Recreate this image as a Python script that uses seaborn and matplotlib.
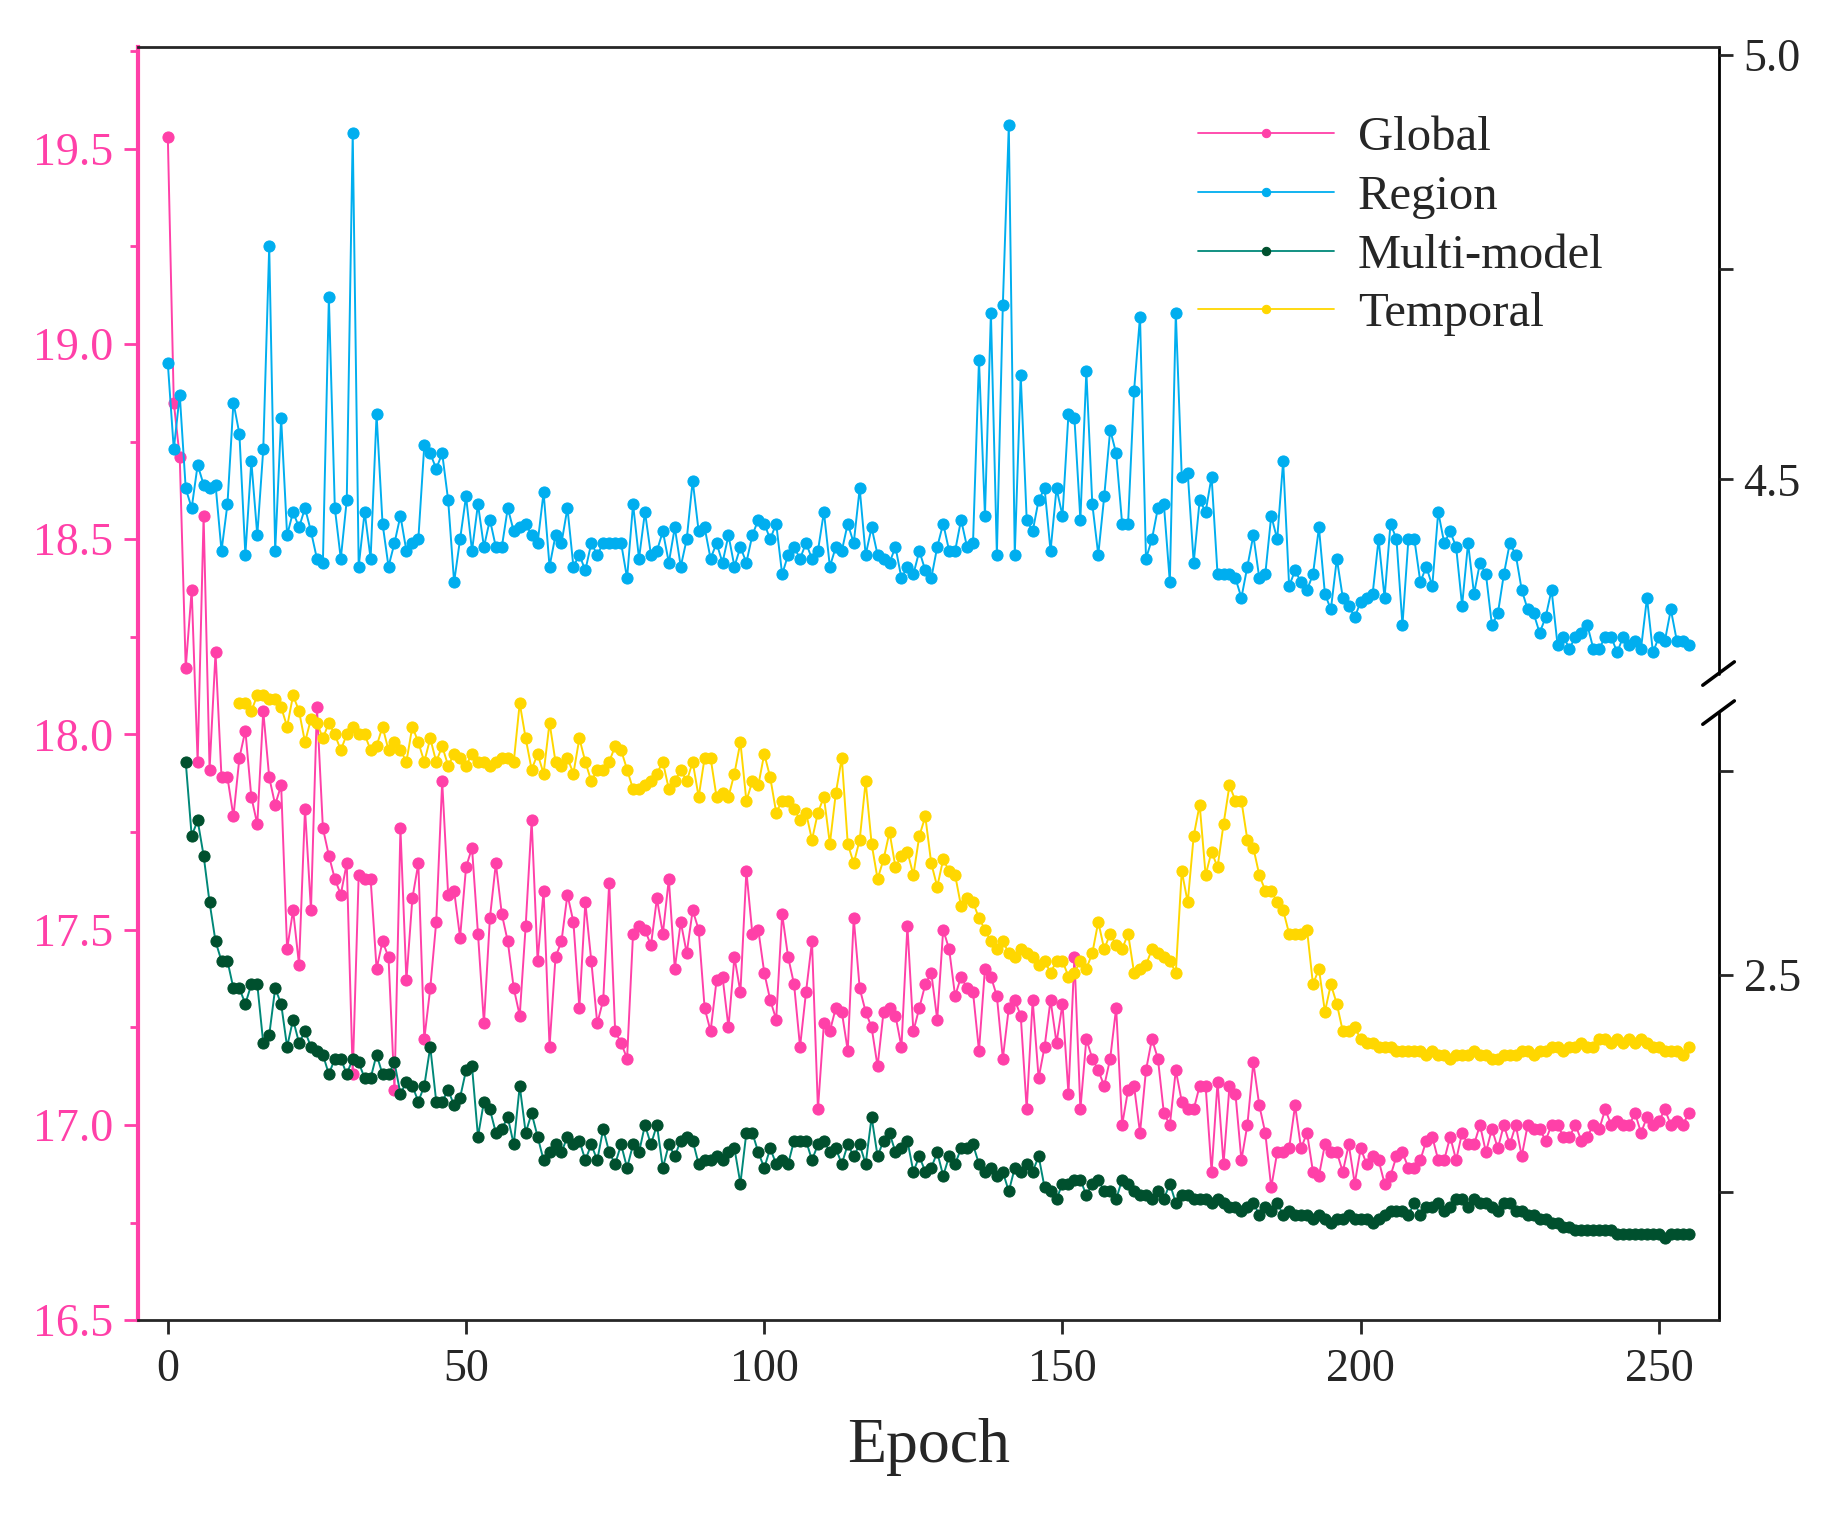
import numpy as np
import pandas as pd
import matplotlib
matplotlib.use('Agg')
import matplotlib.pyplot as plt
import seaborn as sns

# ── Data (plotted on the left-axis scale; Region/Temporal belong to the broken right axis) ──
global_loss = [
    19.53, 18.85, 18.71, 18.17, 18.37, 17.93, 18.56, 17.91, 18.21, 17.89,
    17.89, 17.79, 17.94, 18.01, 17.84, 17.77, 18.06, 17.89, 17.82, 17.87,
    17.45, 17.55, 17.41, 17.81, 17.55, 18.07, 17.76, 17.69, 17.63, 17.59,
    17.67, 17.13, 17.64, 17.63, 17.63, 17.40, 17.47, 17.43, 17.09, 17.76,
    17.37, 17.58, 17.67, 17.22, 17.35, 17.52, 17.88, 17.59, 17.60, 17.48,
    17.66, 17.71, 17.49, 17.26, 17.53, 17.67, 17.54, 17.47, 17.35, 17.28,
    17.51, 17.78, 17.42, 17.60, 17.20, 17.43, 17.47, 17.59, 17.52, 17.30,
    17.57, 17.42, 17.26, 17.32, 17.62, 17.24, 17.21, 17.17, 17.49, 17.51,
    17.50, 17.46, 17.58, 17.49, 17.63, 17.40, 17.52, 17.44, 17.55, 17.50,
    17.30, 17.24, 17.37, 17.38, 17.25, 17.43, 17.34, 17.65, 17.49, 17.50,
    17.39, 17.32, 17.27, 17.54, 17.43, 17.36, 17.20, 17.34, 17.47, 17.04,
    17.26, 17.24, 17.30, 17.29, 17.19, 17.53, 17.35, 17.29, 17.25, 17.15,
    17.29, 17.30, 17.28, 17.20, 17.51, 17.24, 17.30, 17.36, 17.39, 17.27,
    17.50, 17.45, 17.33, 17.38, 17.35, 17.34, 17.19, 17.40, 17.38, 17.33,
    17.17, 17.30, 17.32, 17.28, 17.04, 17.32, 17.12, 17.20, 17.32, 17.21,
    17.31, 17.08, 17.43, 17.04, 17.22, 17.17, 17.14, 17.10, 17.17, 17.30,
    17.00, 17.09, 17.10, 16.98, 17.14, 17.22, 17.17, 17.03, 17.00, 17.14,
    17.06, 17.04, 17.04, 17.10, 17.10, 16.88, 17.11, 16.90, 17.10, 17.08,
    16.91, 17.00, 17.16, 17.05, 16.98, 16.84, 16.93, 16.93, 16.94, 17.05,
    16.94, 16.98, 16.88, 16.87, 16.95, 16.93, 16.93, 16.88, 16.95, 16.85,
    16.94, 16.90, 16.92, 16.91, 16.85, 16.87, 16.92, 16.93, 16.89, 16.89,
    16.91, 16.96, 16.97, 16.91, 16.91, 16.97, 16.91, 16.98, 16.95, 16.95,
    17.00, 16.93, 16.99, 16.94, 17.00, 16.95, 17.00, 16.92, 17.00, 16.99,
    16.99, 16.96, 17.00, 17.00, 16.97, 16.97, 17.00, 16.96, 16.97, 17.00,
    16.99, 17.04, 17.00, 17.01, 17.00, 17.00, 17.03, 16.98, 17.02, 17.00,
    17.01, 17.04, 17.00, 17.01, 17.00, 17.03,
]
region_loss = [
    18.95, 18.73, 18.87, 18.63, 18.58, 18.69, 18.64, 18.63, 18.64, 18.47,
    18.59, 18.85, 18.77, 18.46, 18.70, 18.51, 18.73, 19.25, 18.47, 18.81,
    18.51, 18.57, 18.53, 18.58, 18.52, 18.45, 18.44, 19.12, 18.58, 18.45,
    18.60, 19.54, 18.43, 18.57, 18.45, 18.82, 18.54, 18.43, 18.49, 18.56,
    18.47, 18.49, 18.50, 18.74, 18.72, 18.68, 18.72, 18.60, 18.39, 18.50,
    18.61, 18.47, 18.59, 18.48, 18.55, 18.48, 18.48, 18.58, 18.52, 18.53,
    18.54, 18.51, 18.49, 18.62, 18.43, 18.51, 18.49, 18.58, 18.43, 18.46,
    18.42, 18.49, 18.46, 18.49, 18.49, 18.49, 18.49, 18.40, 18.59, 18.45,
    18.57, 18.46, 18.47, 18.52, 18.44, 18.53, 18.43, 18.50, 18.65, 18.52,
    18.53, 18.45, 18.49, 18.44, 18.51, 18.43, 18.48, 18.44, 18.51, 18.55,
    18.54, 18.50, 18.54, 18.41, 18.46, 18.48, 18.45, 18.49, 18.45, 18.47,
    18.57, 18.43, 18.48, 18.47, 18.54, 18.49, 18.63, 18.46, 18.53, 18.46,
    18.45, 18.44, 18.48, 18.40, 18.43, 18.41, 18.47, 18.42, 18.40, 18.48,
    18.54, 18.47, 18.47, 18.55, 18.48, 18.49, 18.96, 18.56, 19.08, 18.46,
    19.10, 19.56, 18.46, 18.92, 18.55, 18.52, 18.60, 18.63, 18.47, 18.63,
    18.56, 18.82, 18.81, 18.55, 18.93, 18.59, 18.46, 18.61, 18.78, 18.72,
    18.54, 18.54, 18.88, 19.07, 18.45, 18.50, 18.58, 18.59, 18.39, 19.08,
    18.66, 18.67, 18.44, 18.60, 18.57, 18.66, 18.41, 18.41, 18.41, 18.40,
    18.35, 18.43, 18.51, 18.40, 18.41, 18.56, 18.50, 18.70, 18.38, 18.42,
    18.39, 18.37, 18.41, 18.53, 18.36, 18.32, 18.45, 18.35, 18.33, 18.30,
    18.34, 18.35, 18.36, 18.50, 18.35, 18.54, 18.50, 18.28, 18.50, 18.50,
    18.39, 18.43, 18.38, 18.57, 18.49, 18.52, 18.48, 18.33, 18.49, 18.36,
    18.44, 18.41, 18.28, 18.31, 18.41, 18.49, 18.46, 18.37, 18.32, 18.31,
    18.26, 18.30, 18.37, 18.23, 18.25, 18.22, 18.25, 18.26, 18.28, 18.22,
    18.22, 18.25, 18.25, 18.21, 18.25, 18.23, 18.24, 18.22, 18.35, 18.21,
    18.25, 18.24, 18.32, 18.24, 18.24, 18.23,
]
multi_loss = [
    17.93, 17.74, 17.78, 17.69, 17.57, 17.47, 17.42, 17.42, 17.35, 17.35,
    17.31, 17.36, 17.36, 17.21, 17.23, 17.35, 17.31, 17.20, 17.27, 17.21,
    17.24, 17.20, 17.19, 17.18, 17.13, 17.17, 17.17, 17.13, 17.17, 17.16,
    17.12, 17.12, 17.18, 17.13, 17.13, 17.16, 17.08, 17.11, 17.10, 17.06,
    17.10, 17.20, 17.06, 17.06, 17.09, 17.05, 17.07, 17.14, 17.15, 16.97,
    17.06, 17.04, 16.98, 16.99, 17.02, 16.95, 17.10, 16.98, 17.03, 16.97,
    16.91, 16.93, 16.95, 16.93, 16.97, 16.95, 16.96, 16.91, 16.95, 16.91,
    16.99, 16.93, 16.90, 16.95, 16.89, 16.95, 16.93, 17.00, 16.95, 17.00,
    16.89, 16.95, 16.92, 16.96, 16.97, 16.96, 16.90, 16.91, 16.91, 16.92,
    16.91, 16.93, 16.94, 16.85, 16.98, 16.98, 16.93, 16.89, 16.94, 16.90,
    16.91, 16.90, 16.96, 16.96, 16.96, 16.91, 16.95, 16.96, 16.93, 16.94,
    16.90, 16.95, 16.92, 16.95, 16.90, 17.02, 16.92, 16.96, 16.98, 16.93,
    16.94, 16.96, 16.88, 16.92, 16.88, 16.89, 16.93, 16.87, 16.92, 16.90,
    16.94, 16.94, 16.95, 16.90, 16.88, 16.89, 16.87, 16.88, 16.83, 16.89,
    16.88, 16.90, 16.88, 16.92, 16.84, 16.83, 16.81, 16.85, 16.85, 16.86,
    16.86, 16.82, 16.85, 16.86, 16.83, 16.83, 16.81, 16.86, 16.85, 16.83,
    16.82, 16.82, 16.81, 16.83, 16.81, 16.85, 16.80, 16.82, 16.82, 16.81,
    16.81, 16.81, 16.80, 16.81, 16.80, 16.79, 16.79, 16.78, 16.79, 16.80,
    16.77, 16.79, 16.78, 16.80, 16.77, 16.78, 16.77, 16.77, 16.77, 16.76,
    16.77, 16.76, 16.75, 16.76, 16.76, 16.77, 16.76, 16.76, 16.76, 16.75,
    16.76, 16.77, 16.78, 16.78, 16.78, 16.77, 16.80, 16.77, 16.79, 16.79,
    16.80, 16.78, 16.79, 16.81, 16.81, 16.79, 16.81, 16.80, 16.80, 16.79,
    16.78, 16.80, 16.80, 16.78, 16.78, 16.77, 16.77, 16.76, 16.76, 16.75,
    16.75, 16.74, 16.74, 16.73, 16.73, 16.73, 16.73, 16.73, 16.73, 16.73,
    16.72, 16.72, 16.72, 16.72, 16.72, 16.72, 16.72, 16.72, 16.71, 16.72,
    16.72, 16.72, 16.72,
]
temporal_loss = [
    18.08, 18.08, 18.06, 18.10, 18.10, 18.09, 18.09, 18.07, 18.02, 18.10,
    18.06, 17.98, 18.04, 18.03, 17.99, 18.03, 18.00, 17.96, 18.00, 18.02,
    18.00, 18.00, 17.96, 17.97, 18.02, 17.96, 17.98, 17.96, 17.93, 18.02,
    17.98, 17.93, 17.99, 17.93, 17.97, 17.92, 17.95, 17.94, 17.92, 17.95,
    17.93, 17.93, 17.92, 17.93, 17.94, 17.94, 17.93, 18.08, 17.99, 17.91,
    17.95, 17.90, 18.03, 17.93, 17.92, 17.94, 17.90, 17.99, 17.93, 17.88,
    17.91, 17.91, 17.93, 17.97, 17.96, 17.91, 17.86, 17.86, 17.87, 17.88,
    17.90, 17.93, 17.86, 17.88, 17.91, 17.88, 17.93, 17.84, 17.94, 17.94,
    17.84, 17.85, 17.84, 17.90, 17.98, 17.83, 17.88, 17.87, 17.95, 17.89,
    17.80, 17.83, 17.83, 17.81, 17.78, 17.80, 17.73, 17.80, 17.84, 17.72,
    17.85, 17.94, 17.72, 17.67, 17.73, 17.88, 17.72, 17.63, 17.68, 17.75,
    17.66, 17.69, 17.70, 17.64, 17.74, 17.79, 17.67, 17.61, 17.68, 17.65,
    17.64, 17.56, 17.58, 17.57, 17.53, 17.50, 17.47, 17.45, 17.47, 17.44,
    17.43, 17.45, 17.44, 17.43, 17.41, 17.42, 17.39, 17.42, 17.42, 17.38,
    17.39, 17.42, 17.40, 17.44, 17.52, 17.45, 17.49, 17.46, 17.45, 17.49,
    17.39, 17.40, 17.41, 17.45, 17.44, 17.43, 17.42, 17.39, 17.65, 17.57,
    17.74, 17.82, 17.64, 17.70, 17.66, 17.77, 17.87, 17.83, 17.83, 17.73,
    17.71, 17.64, 17.60, 17.60, 17.57, 17.55, 17.49, 17.49, 17.49, 17.50,
    17.36, 17.40, 17.29, 17.36, 17.31, 17.24, 17.24, 17.25, 17.22, 17.21,
    17.21, 17.20, 17.20, 17.20, 17.19, 17.19, 17.19, 17.19, 17.19, 17.18,
    17.19, 17.18, 17.18, 17.17, 17.18, 17.18, 17.18, 17.19, 17.18, 17.18,
    17.17, 17.17, 17.18, 17.18, 17.18, 17.19, 17.19, 17.18, 17.19, 17.19,
    17.20, 17.20, 17.19, 17.20, 17.20, 17.21, 17.20, 17.20, 17.22, 17.22,
    17.21, 17.22, 17.21, 17.22, 17.21, 17.22, 17.21, 17.20, 17.20, 17.19,
    17.19, 17.19, 17.18, 17.20,
]
series_names = ["Global", "Region", "Multi-model", "Temporal"]
series_start = [0, 0, 3, 12]
line_colors = ["#FF40A8", "#00AEEF", "#008878", "#FFD700"]
marker_colors = ["#FF40A8", "#00AEEF", "#00502E", "#FFD700"]

left_ticks = [16.5, 17.0, 17.5, 18.0, 18.5, 19.0, 19.5]
# right (broken) axis: position on the left scale -> label
right_tick_pos = [19.74, 19.193, 18.653, 17.906, 17.384, 16.829]
right_tick_lab = ["5.0", "", "4.5", "", "2.5", ""]
break_pos = 18.106

# ── Figure ─────────────────────────────────────────────────────────────────
sns.set_style("ticks")
plt.rcParams['font.family'] = ['Liberation Serif', 'DejaVu Serif']

fig = plt.figure(figsize=(18.4, 15.21), dpi=100)
ax = fig.add_axes([0.075, 0.132, 0.859, 0.837])

all_series = [global_loss, region_loss, multi_loss, temporal_loss]
for name, vals, start, lc, mc in zip(series_names, all_series, series_start, line_colors, marker_colors):
    df = pd.DataFrame({"Epoch": np.arange(start, start + len(vals)), "Loss": vals})
    sns.lineplot(data=df, x="Epoch", y="Loss", ax=ax, color=lc, lw=1.4,
                 marker="o", markersize=8, markerfacecolor=mc, markeredgecolor=mc,
                 label=name)

ax.set_xlim(-5, 260)
ax.set_ylim(16.5, 19.76)
ax.set_xticks([0, 50, 100, 150, 200, 250])
ax.set_yticks(left_ticks)
ax.set_yticks(np.arange(16.75, 19.76, 0.5), minor=True)
ax.set_xlabel("Epoch", fontsize=46, labelpad=20)
ax.set_ylabel("")
ax.tick_params(axis="x", labelsize=33, length=10, width=2, pad=10)
ax.tick_params(axis="y", labelsize=33, length=10, width=2, colors="#FF40A8", pad=8)
ax.tick_params(axis="y", which="minor", length=6, width=2, colors="#FF40A8")
for lab in ax.get_yticklabels():
    lab.set_color("#FF40A8")
ax.spines["left"].set_color("#FF40A8")
ax.spines["left"].set_linewidth(3)
for s in ["top", "bottom"]:
    ax.spines[s].set_linewidth(2)
ax.spines["right"].set_visible(False)

# right axis with a break
ax2 = ax.twinx()
ax2.set_ylim(ax.get_ylim())
ax2.set_yticks(right_tick_pos)
ax2.set_yticklabels(right_tick_lab)
ax2.tick_params(axis="y", labelsize=33, length=10, width=2, pad=8)
for s in ["top", "bottom", "left", "right"]:
    ax2.spines[s].set_visible(False)
tr = ax.get_yaxis_transform()
gap = 0.05
ax.plot([1, 1], [16.5, break_pos - gap], transform=tr, color="black", lw=2, clip_on=False)
ax.plot([1, 1], [break_pos + gap, 19.76], transform=tr, color="black", lw=2, clip_on=False)
for dy in (-gap, gap):
    ax.plot([0.99, 1.01], [break_pos + dy - 0.03, break_pos + dy + 0.03],
            transform=tr, color="black", lw=2.5, clip_on=False)

leg = ax.legend(loc="upper right", bbox_to_anchor=(0.955, 0.98), frameon=False,
                fontsize=35, handlelength=2.8, handletextpad=0.5, labelspacing=0.3)
for h in leg.get_lines():
    h.set_linewidth(1.3)
    h.set_markersize(6)

fig.savefig("out.png", dpi=100)
